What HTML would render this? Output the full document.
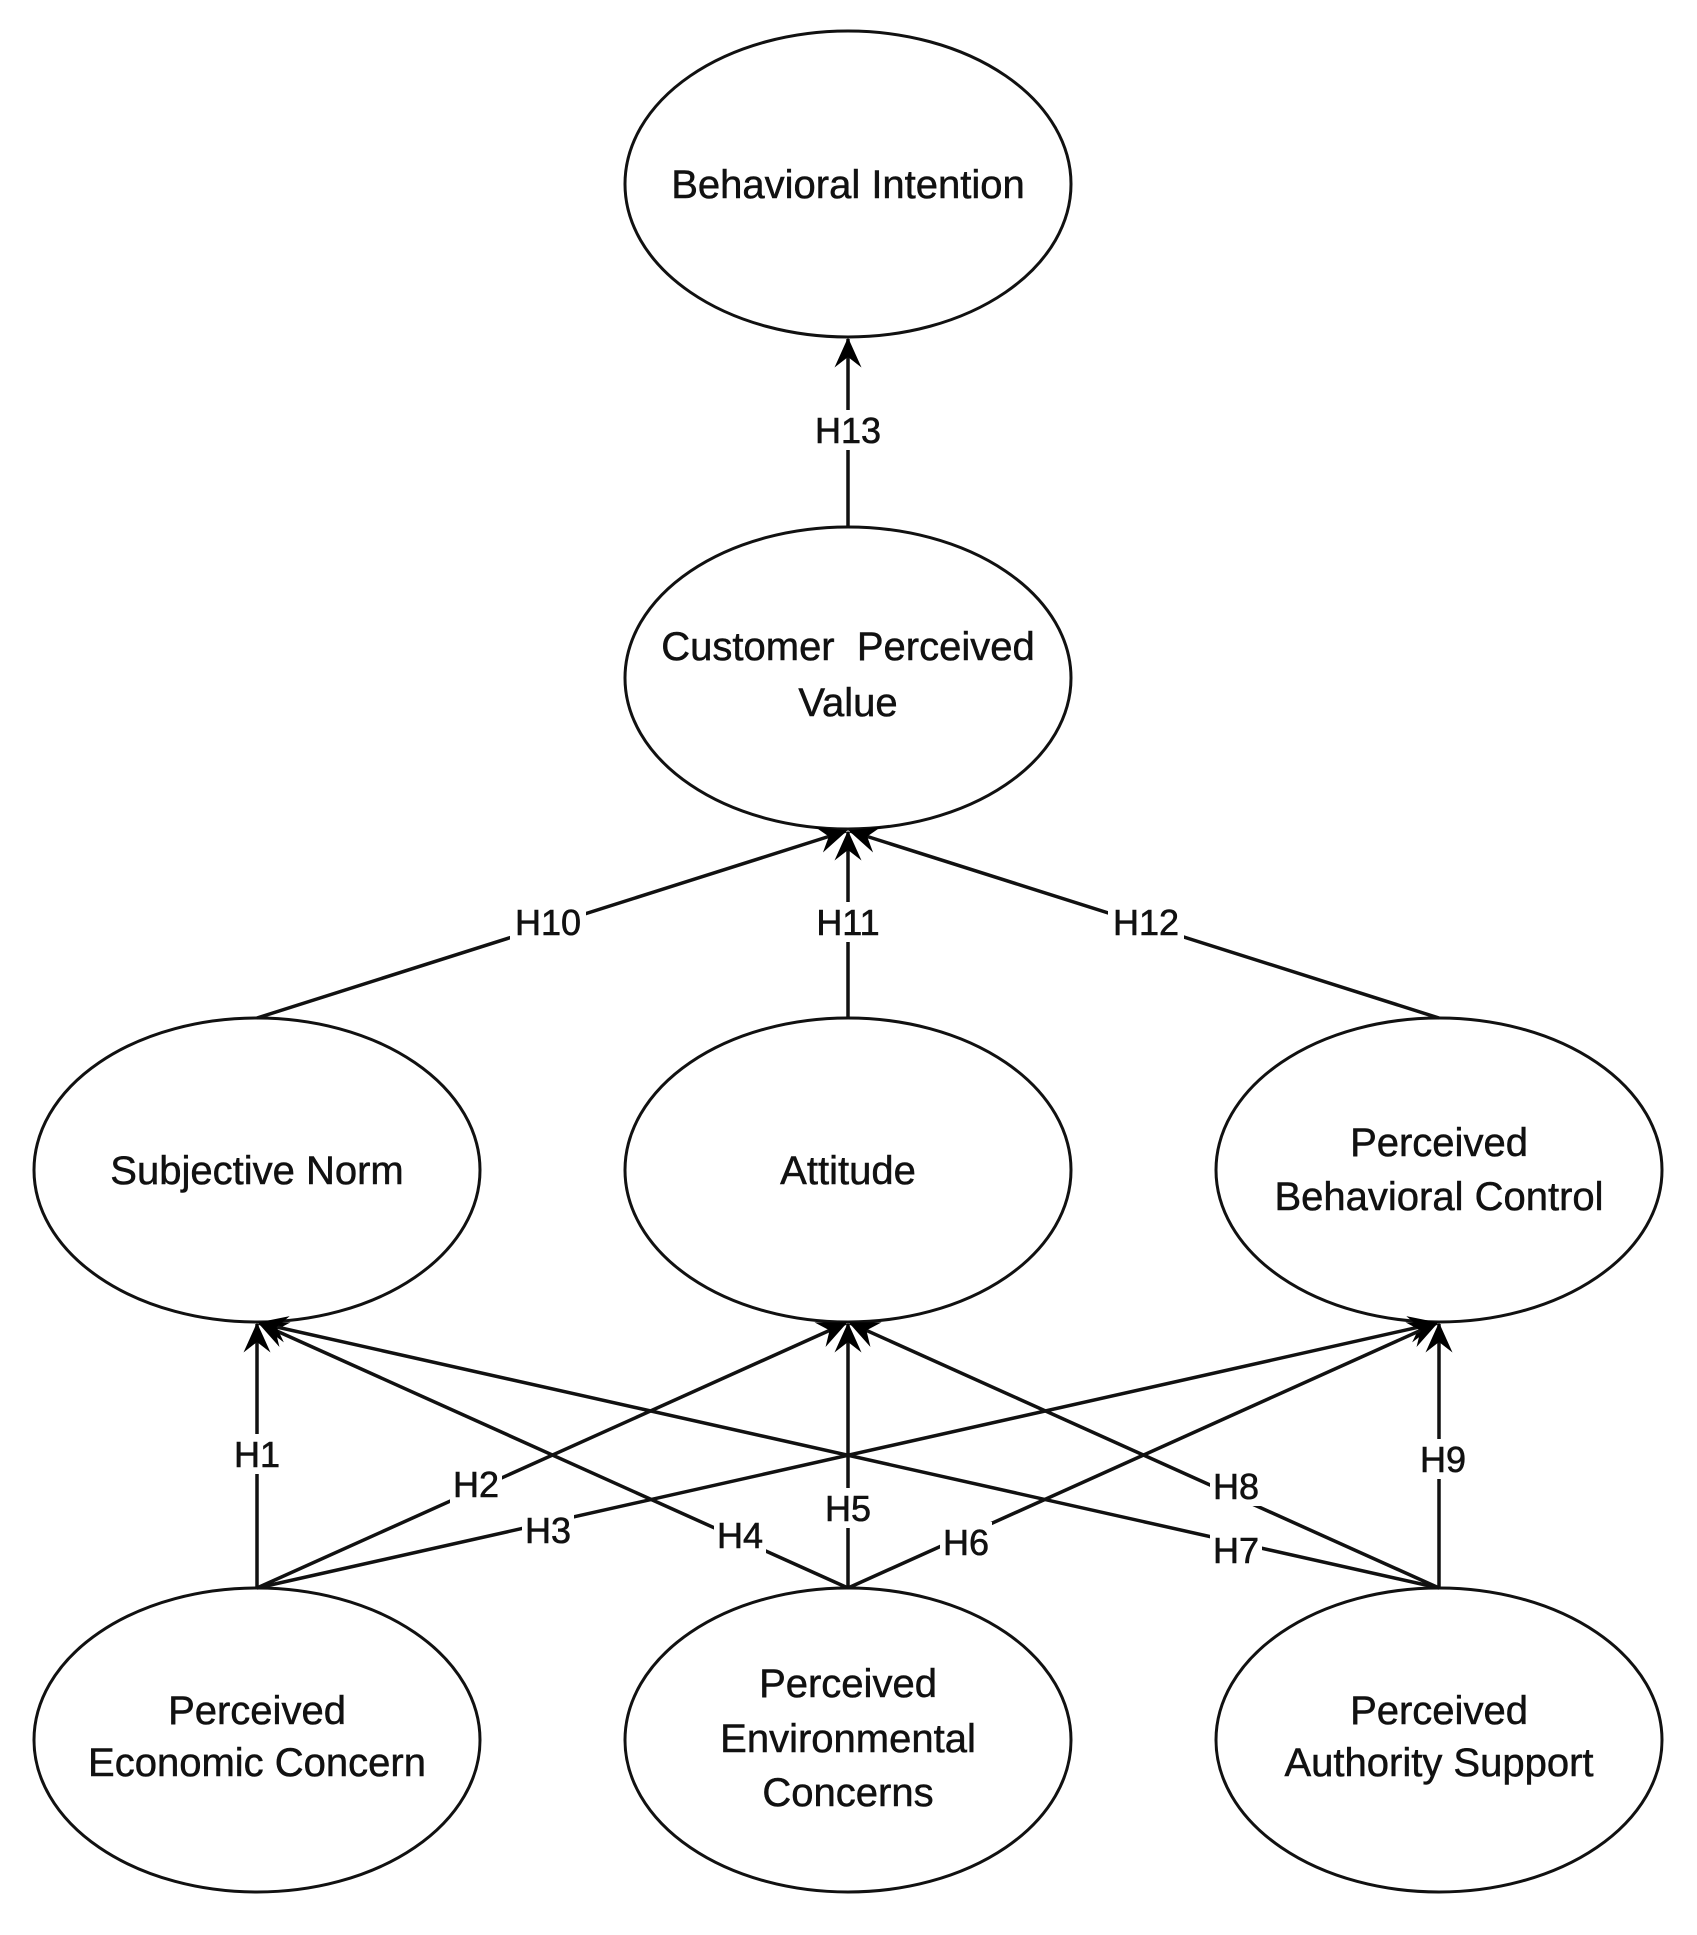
<!DOCTYPE html>
<html><head><style>
html,body{margin:0;padding:0;background:#fff;}
svg{display:block}
text{font-family:"Liberation Sans",Arial,sans-serif;fill:#111;}
</style></head><body>
<svg width="1697" height="1935" viewBox="0 0 1697 1935" xmlns="http://www.w3.org/2000/svg">
<defs>
<marker id="a" viewBox="0 0 20 20" refX="19" refY="10" markerWidth="30" markerHeight="30" orient="auto" markerUnits="userSpaceOnUse">
<path d="M0,1 L20,10 L0,19 L7,10 Z" fill="#000"/>
</marker>
</defs>
<g stroke="#111" stroke-width="3" fill="none">
<ellipse cx="848" cy="184" rx="223" ry="153"/>
<ellipse cx="848" cy="678" rx="223" ry="151"/>
<ellipse cx="257" cy="1170" rx="223" ry="152"/>
<ellipse cx="848" cy="1170" rx="223" ry="152"/>
<ellipse cx="1439" cy="1170" rx="223" ry="152"/>
<ellipse cx="257" cy="1740" rx="223" ry="152"/>
<ellipse cx="848" cy="1740" rx="223" ry="152"/>
<ellipse cx="1439" cy="1740" rx="223" ry="152"/>
</g>
<g stroke="#111" stroke-width="3.5" fill="none">
<line x1="848" y1="527" x2="848" y2="339" marker-end="url(#a)"/>
<line x1="257" y1="1018" x2="846" y2="831" marker-end="url(#a)"/>
<line x1="848" y1="1018" x2="848" y2="832" marker-end="url(#a)"/>
<line x1="1439" y1="1018" x2="850" y2="831" marker-end="url(#a)"/>
<line x1="257" y1="1588" x2="257" y2="1324" marker-end="url(#a)"/>
<line x1="257" y1="1588" x2="846" y2="1323" marker-end="url(#a)"/>
<line x1="257" y1="1588" x2="1437" y2="1323" marker-end="url(#a)"/>
<line x1="848" y1="1588" x2="259" y2="1323" marker-end="url(#a)"/>
<line x1="848" y1="1588" x2="848" y2="1324" marker-end="url(#a)"/>
<line x1="848" y1="1588" x2="1437" y2="1323" marker-end="url(#a)"/>
<line x1="1439" y1="1588" x2="259" y2="1323" marker-end="url(#a)"/>
<line x1="1439" y1="1588" x2="850" y2="1323" marker-end="url(#a)"/>
<line x1="1439" y1="1588" x2="1439" y2="1324" marker-end="url(#a)"/>
</g>
<g font-size="36" text-anchor="middle">
<g fill="#fff">
<rect x="812" y="410" width="72" height="40"/>
<rect x="510" y="902" width="76" height="40"/>
<rect x="812" y="902" width="72" height="40"/>
<rect x="1108" y="902" width="76" height="40"/>
<rect x="232" y="1434" width="50" height="40"/>
<rect x="450" y="1464" width="52" height="40"/>
<rect x="522" y="1510" width="52" height="40"/>
<rect x="714" y="1515" width="52" height="40"/>
<rect x="822" y="1488" width="52" height="40"/>
<rect x="940" y="1522" width="52" height="40"/>
<rect x="1210" y="1530" width="52" height="40"/>
<rect x="1210" y="1466" width="52" height="40"/>
<rect x="1417" y="1439" width="52" height="40"/>
</g>
<g stroke="#111" stroke-width="0.6">
<text x="848" y="443">H13</text>
<text x="548" y="935">H10</text>
<text x="848" y="935">H11</text>
<text x="1146" y="935">H12</text>
<text x="257" y="1467">H1</text>
<text x="476" y="1497">H2</text>
<text x="548" y="1543">H3</text>
<text x="740" y="1548">H4</text>
<text x="848" y="1521">H5</text>
<text x="966" y="1555">H6</text>
<text x="1236" y="1563">H7</text>
<text x="1236" y="1499">H8</text>
<text x="1443" y="1472">H9</text>
</g>
</g>
<g font-size="40" text-anchor="middle" stroke="#111" stroke-width="0.5">
<text x="848" y="198">Behavioral Intention</text>
<text x="848" y="660" xml:space="preserve">Customer  Perceived</text>
<text x="848" y="716">Value</text>
<text x="257" y="1184">Subjective Norm</text>
<text x="848" y="1184">Attitude</text>
<text x="1439" y="1156">Perceived</text>
<text x="1439" y="1210">Behavioral Control</text>
<text x="257" y="1724">Perceived</text>
<text x="257" y="1776">Economic Concern</text>
<text x="848" y="1697">Perceived</text>
<text x="848" y="1752">Environmental</text>
<text x="848" y="1806">Concerns</text>
<text x="1439" y="1724">Perceived</text>
<text x="1439" y="1776">Authority Support</text>
</g>
</svg>
</body></html>
